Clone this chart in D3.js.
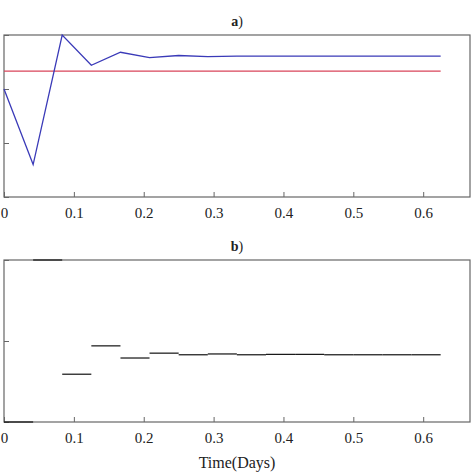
<!DOCTYPE html>
<html><head><meta charset="utf-8">
<script src="https://cdn.jsdelivr.net/npm/d3@7"></script>
<style>body{margin:0;background:#fff}text{font-family:"Liberation Serif",serif}</style>
</head><body>
<script>
// step times (1/24 day) and values
var times = [0, 0.0417, 0.0833, 0.125, 0.1667, 0.2083, 0.25, 0.2917, 0.3333, 0.375, 0.4167, 0.4583, 0.5, 0.5417, 0.5833, 0.625];
var stateA = [2.0, 0.6, 3.0, 2.44, 2.68, 2.58, 2.62, 2.6, 2.61, 2.61, 2.61, 2.61, 2.61, 2.61, 2.61, 2.61];
var target = 2.33;
var inputB = [0, 2.0, 0.59, 0.94, 0.79, 0.85, 0.83, 0.84, 0.83, 0.835, 0.835, 0.83, 0.83, 0.83, 0.83];
var xTicks = [0, 0.1, 0.2, 0.3, 0.4, 0.5, 0.6];

var svg = d3.select("body").append("svg").attr("width", 474).attr("height", 474);
var x = d3.scaleLinear().domain([0, 0.667]).range([4, 470]);

function panel(top, bottom, ydom, yticks, title) {
  var y = d3.scaleLinear().domain(ydom).range([bottom, top]);
  var g = svg.append("g");
  g.append("rect").attr("x", 4).attr("y", top).attr("width", 466).attr("height", bottom - top)
    .attr("fill", "none").attr("stroke", "#666").attr("stroke-width", 1.2);
  g.append("g").attr("transform", "translate(0," + bottom + ")")
    .call(d3.axisBottom(x).tickValues(xTicks).tickSizeInner(-5).tickSizeOuter(0).tickPadding(10)
      .tickFormat(function(d){ return d === 0 ? "0" : d3.format(".1f")(d); }))
    .call(function(a){ a.select(".domain").remove(); a.selectAll("line").attr("stroke","#666");
      a.selectAll("text").attr("font-size", 15).attr("fill", "#222"); });
  g.append("g").attr("transform", "translate(4,0)")
    .call(d3.axisLeft(y).tickValues(yticks).tickSizeInner(-5).tickSizeOuter(0).tickFormat(""))
    .call(function(a){ a.select(".domain").remove(); a.selectAll("line").attr("stroke","#666"); });
  var t = g.append("text").attr("x", 237).attr("y", top - 9).attr("text-anchor", "middle")
    .attr("font-size", 14).attr("fill", "#222");
  t.append("tspan").attr("font-weight", "bold").text(title);
  t.append("tspan").text(")");
  return y;
}

var yA = panel(35, 197, [0, 3], [0, 1, 2, 3], "a");
svg.append("line").attr("x1", x(0)).attr("x2", x(0.625)).attr("y1", yA(target)).attr("y2", yA(target))
  .attr("stroke", "#d9455a").attr("stroke-width", 1.3);
svg.append("path").datum(times)
  .attr("d", d3.line().x(function(d){ return x(d); }).y(function(d, i){ return yA(stateA[i]); }))
  .attr("fill", "none").attr("stroke", "#3a3ab8").attr("stroke-width", 1.3);

var yB = panel(260, 422, [0, 2], [0, 1, 2], "b");
inputB.forEach(function(v, i){
  svg.append("line").attr("x1", x(times[i])).attr("x2", x(times[i + 1]))
    .attr("y1", yB(v)).attr("y2", yB(v)).attr("stroke", "#111").attr("stroke-width", 1.2);
});

svg.append("text").attr("x", 237).attr("y", 468).attr("text-anchor", "middle")
  .attr("font-size", 16).attr("fill", "#222").text("Time(Days)");
</script>
</body></html>
